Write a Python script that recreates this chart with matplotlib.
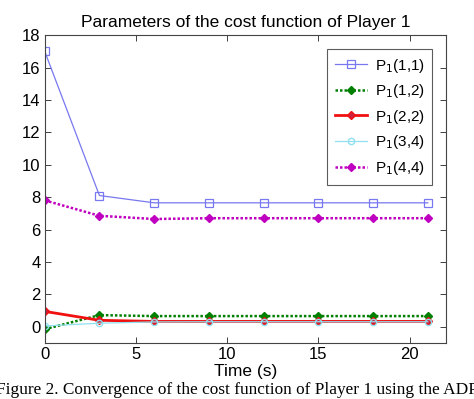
import numpy as np
import matplotlib.pyplot as plt

plt.rcParams['font.family'] = ['Liberation Sans', 'DejaVu Sans']

time_s = [0, 3, 6, 9, 12, 15, 18, 21]
p11 = [17.0, 8.1, 7.65, 7.65, 7.65, 7.65, 7.65, 7.65]
p12 = [-0.15, 0.72, 0.66, 0.66, 0.66, 0.66, 0.66, 0.66]
p22 = [0.95, 0.4, 0.33, 0.33, 0.33, 0.33, 0.33, 0.33]
p34 = [0.05, 0.22, 0.3, 0.31, 0.31, 0.31, 0.31, 0.31]
p44 = [7.8, 6.85, 6.65, 6.7, 6.7, 6.7, 6.7, 6.7]

fig = plt.figure(figsize=(4.74, 3.99), dpi=100)
ax = fig.add_axes([0.0943, 0.1404, 0.8467, 0.7716])

dots = (0, (1, 0.8))
ax.plot(time_s, p11, color='#7878f0', lw=0.9, marker='s', ms=6, mfc='none', mew=0.9, label='P$_1$(1,1)')
ax.plot(time_s, p12, color='#008000', lw=1.8, ls=dots, marker='D', ms=4.5, label='P$_1$(1,2)')
ax.plot(time_s, p22, color='#f01010', lw=2, marker='D', ms=4, mfc='#d02040', label='P$_1$(2,2)')
ax.plot(time_s, p34, color='#90e0f0', lw=0.9, marker='o', ms=4.5, mfc='none', label='P$_1$(3,4)')
ax.plot(time_s, p44, color='#c000c0', lw=1.8, ls=dots, marker='D', ms=4.5, label='P$_1$(4,4)')

ax.set_xlim(0, 22)
ax.set_ylim(-1, 18)
ax.set_xticks([0, 5, 10, 15, 20])
ax.set_yticks(range(0, 19, 2))
ax.tick_params(direction='in', top=True, right=True, labelsize=12, length=4, width=0.6,
               colors='#222222', labelcolor='black', pad=3)
for sp in ax.spines.values():
    sp.set_color('#444444')
    sp.set_linewidth(0.8)

ax.set_xlabel('Time (s)', fontsize=12.5, labelpad=1)
ax.set_title('Parameters of the cost function of Player 1', fontsize=12.5, pad=6)

leg = ax.legend(loc='upper right', fontsize=11, fancybox=False, edgecolor='#333333',
                borderaxespad=0.9, handlelength=2.1, handletextpad=0.5, labelspacing=0.5,
                borderpad=0.5)
leg.get_frame().set_linewidth(0.8)

fig.text(-0.008, 0.003, 'Figure 2. Convergence of the cost function of Player 1 using the ADP',
         family='Liberation Serif', fontsize=12.4, ha='left', va='bottom')

fig.savefig('out.png', dpi=100)
